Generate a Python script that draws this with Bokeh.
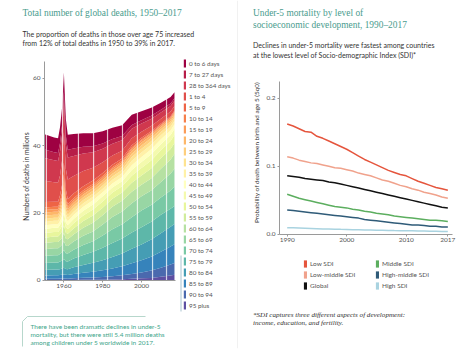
import math
from bokeh.plotting import figure
from bokeh.layouts import row
from bokeh.models import (ColumnDataSource, Range1d, FixedTicker, Legend, LegendItem,
                          NumeralTickFormatter)
from bokeh.core.properties import value
from bokeh.embed import file_html
from bokeh.resources import INLINE

# ---------------- data: global deaths by age (millions) ----------------
years = [1950, 1955, 1957, 1958, 1959, 1960, 1961, 1962, 1965, 1970,
         1975, 1980, 1985, 1990, 1995, 2000, 2005, 2010, 2015, 2017]
age_groups = ["0 to 6 days", "7 to 27 days", "28 to 364 days", "1 to 4", "5 to 9",
              "10 to 14", "15 to 19", "20 to 24", "25 to 29", "30 to 34", "35 to 39",
              "40 to 44", "45 to 49", "50 to 54", "55 to 59", "60 to 64", "65 to 69",
              "70 to 74", "75 to 79", "80 to 84", "85 to 89", "90 to 94", "95 plus"]
d1950 = [4.5, 2.5, 6.8, 6.3, 1.6, 0.8, 0.8, 0.9, 0.9, 0.9, 1.0, 1.1, 1.2, 1.4, 1.6, 1.8, 2.0, 2.1, 2.1, 1.6, 1.0, 0.4, 0.1]
d1955 = [4.4, 2.4, 6.5, 5.8, 1.5, 0.75, 0.75, 0.85, 0.9, 0.9, 1.0, 1.1, 1.2, 1.4, 1.6, 1.85, 2.05, 2.15, 2.15, 1.65, 1.05, 0.42, 0.11]
d1957 = [4.4, 2.4, 6.4, 5.7, 1.5, 0.75, 0.75, 0.85, 0.9, 0.9, 1.0, 1.1, 1.2, 1.4, 1.6, 1.85, 2.05, 2.15, 2.15, 1.65, 1.05, 0.42, 0.11]
d1958 = [4.7, 2.6, 7.0, 5.9, 1.9, 0.85, 0.85, 0.95, 1.0, 1.0, 1.1, 1.2, 1.3, 1.5, 1.7, 1.95, 2.15, 2.25, 2.25, 1.7, 1.1, 0.44, 0.12]
d1959 = [5.2, 2.9, 7.5, 7.2, 2.4, 1.1, 1.05, 1.15, 1.15, 1.15, 1.25, 1.35, 1.45, 1.65, 1.85, 2.1, 2.3, 2.4, 2.35, 1.8, 1.15, 0.46, 0.12]
d1960 = [5.8, 3.0, 9.0, 9.0, 3.45, 1.7, 1.5, 1.6, 1.6, 1.6, 1.65, 1.75, 1.85, 2.0, 2.2, 2.45, 2.6, 2.7, 2.6, 1.95, 1.2, 0.48, 0.12]
d1961 = [4.9, 2.7, 7.2, 6.1, 2.2, 1.0, 0.95, 1.05, 1.1, 1.1, 1.2, 1.3, 1.4, 1.6, 1.8, 2.05, 2.25, 2.35, 2.3, 1.75, 1.12, 0.45, 0.12]
d1962 = [4.5, 2.3, 6.5, 5.9, 1.45, 0.72, 0.72, 0.82, 0.88, 0.9, 1.0, 1.1, 1.22, 1.42, 1.65, 2.0, 2.2, 2.35, 2.3, 1.75, 1.08, 0.43, 0.11]
d1965 = [4.3, 2.2, 6.0, 5.2, 1.35, 0.68, 0.7, 0.82, 0.88, 0.92, 1.02, 1.15, 1.3, 1.52, 1.78, 2.1, 2.45, 2.6, 2.6, 2.0, 1.3, 0.5, 0.13]
d1970 = [4.0, 2.0, 5.2, 4.5, 1.2, 0.6, 0.68, 0.8, 0.85, 0.92, 1.05, 1.2, 1.38, 1.62, 2.0, 2.4, 2.75, 2.95, 3.0, 2.3, 1.5, 0.6, 0.2]
d1975 = [3.8, 1.8, 4.6, 3.8, 1.05, 0.55, 0.66, 0.8, 0.85, 0.92, 1.05, 1.22, 1.5, 1.8, 2.15, 2.6, 2.9, 3.15, 3.2, 2.68, 1.72, 0.7, 0.2]
d1980 = [3.6, 1.6, 4.0, 3.2, 0.9, 0.5, 0.65, 0.8, 0.86, 0.93, 1.05, 1.22, 1.5, 1.85, 2.25, 2.75, 3.3, 3.65, 3.7, 2.95, 2.0, 0.8, 0.24]
d1985 = [3.4, 1.4, 3.5, 2.7, 0.78, 0.46, 0.63, 0.8, 0.88, 0.95, 1.06, 1.22, 1.48, 1.88, 2.35, 3.05, 3.65, 4.05, 4.15, 3.46, 2.3, 0.95, 0.3]
d1990 = [3.2, 1.25, 3.1, 2.3, 0.68, 0.42, 0.62, 0.82, 0.9, 0.98, 1.08, 1.25, 1.5, 1.9, 2.45, 3.15, 3.8, 4.25, 4.4, 3.8, 2.7, 1.15, 0.4]
d1995 = [3.0, 1.15, 2.8, 2.1, 0.62, 0.4, 0.62, 0.85, 0.95, 1.15, 1.3, 1.45, 1.7, 2.1, 2.65, 3.4, 4.16, 4.55, 4.8, 4.3, 3.2, 1.45, 0.5]
d2000 = [2.7, 1.0, 2.4, 1.8, 0.5, 0.35, 0.58, 0.85, 0.98, 1.15, 1.32, 1.5, 1.78, 2.2, 2.75, 3.45, 4.2, 4.99, 5.1, 4.7, 3.6, 1.75, 0.65]
d2005 = [2.4, 0.9, 2.1, 1.6, 0.42, 0.3, 0.5, 0.78, 0.92, 1.1, 1.3, 1.52, 1.85, 2.35, 2.95, 3.6, 4.3, 4.95, 5.3, 5.1, 4.1, 2.2, 0.76]
d2010 = [2.1, 0.8, 1.85, 1.45, 0.33, 0.27, 0.43, 0.68, 0.8, 0.98, 1.18, 1.45, 1.8, 2.35, 3.15, 3.95, 4.6, 5.14, 5.49, 5.5, 4.7, 2.7, 1.1]
d2015 = [1.9, 0.74, 1.7, 1.35, 0.29, 0.25, 0.4, 0.6, 0.72, 0.9, 1.08, 1.38, 1.78, 2.35, 3.1, 4.2, 5.0, 5.46, 5.35, 5.85, 5.35, 3.25, 1.5]
d2017 = [1.8, 0.7, 1.6, 1.3, 0.27, 0.24, 0.38, 0.58, 0.7, 0.88, 1.05, 1.35, 1.78, 2.4, 3.2, 4.5, 5.35, 5.72, 5.3, 6.0, 5.6, 3.5, 1.7]
death_rows = [d1950, d1955, d1957, d1958, d1959, d1960, d1961, d1962, d1965, d1970,
              d1975, d1980, d1985, d1990, d1995, d2000, d2005, d2010, d2015, d2017]
guide_years = [1951.0, 1959.3, 1967.5, 1975.3, 1982.5, 1990.2, 1997.9, 2005.7, 2012.9]
left_ticks = [1960, 1980, 2000]
left_yticks = [0, 20, 40, 60]

# ---------------- data: under-5 mortality by SDI ----------------
u5_years = [1990, 1991, 1992, 1993, 1994, 1995, 1996, 1997, 1998, 1999, 2000, 2001, 2002, 2003,
            2004, 2005, 2006, 2007, 2008, 2009, 2010, 2011, 2012, 2013, 2014, 2015, 2016, 2017]
low_sdi = [0.162, 0.159, 0.155, 0.151, 0.150, 0.144, 0.141, 0.137, 0.133, 0.129, 0.125, 0.120, 0.115, 0.110,
           0.106, 0.102, 0.098, 0.094, 0.091, 0.088, 0.086, 0.082, 0.078, 0.075, 0.072, 0.069, 0.067, 0.065]
low_mid_sdi = [0.114, 0.112, 0.109, 0.107, 0.105, 0.104, 0.102, 0.100, 0.098, 0.097, 0.095, 0.093, 0.090, 0.088,
               0.086, 0.083, 0.080, 0.078, 0.075, 0.072, 0.070, 0.067, 0.065, 0.062, 0.060, 0.058, 0.055, 0.053]
global_u5 = [0.086, 0.085, 0.084, 0.082, 0.081, 0.080, 0.079, 0.077, 0.076, 0.074, 0.072, 0.070, 0.068, 0.066,
             0.064, 0.062, 0.060, 0.058, 0.056, 0.054, 0.052, 0.050, 0.048, 0.046, 0.044, 0.042, 0.040, 0.039]
mid_sdi = [0.059, 0.056, 0.053, 0.051, 0.049, 0.047, 0.045, 0.043, 0.041, 0.040, 0.039, 0.037, 0.036, 0.034,
           0.033, 0.031, 0.030, 0.029, 0.027, 0.026, 0.025, 0.024, 0.023, 0.022, 0.021, 0.021, 0.020, 0.019]
high_mid_sdi = [0.036, 0.035, 0.034, 0.033, 0.032, 0.031, 0.030, 0.029, 0.028, 0.027, 0.026, 0.025, 0.024, 0.022,
                0.021, 0.020, 0.019, 0.018, 0.017, 0.016, 0.015, 0.014, 0.014, 0.013, 0.012, 0.012, 0.011, 0.011]
high_sdi = [0.0100, 0.0097, 0.0094, 0.0091, 0.0088, 0.0085, 0.0082, 0.0080, 0.0078, 0.0075, 0.0073, 0.0071,
            0.0069, 0.0067, 0.0065, 0.0063, 0.0061, 0.0059, 0.0057, 0.0056, 0.0054, 0.0053, 0.0051, 0.0050,
            0.0048, 0.0047, 0.0045, 0.0044]
sdi_names = ["Low SDI", "Low-middle SDI", "Global", "Middle SDI", "High-middle SDI", "High SDI"]
right_ticks = [1990, 2000, 2010, 2017]
right_yticks = [0, 0.1, 0.2]

# ---------------- styles ----------------
SANS = "Lato"
SERIF = "Liberation Serif"
TEAL = "#4a9c8e"
NOTE_TEAL = "#3ea58a"
sdi_colors = ["#e5553d", "#f0a28c", "#111111", "#5cae5f", "#2f5b78", "#a9d3e0"]
SPECTRAL = ["#9e0142", "#d53e4f", "#f46d43", "#fdae61", "#fee08b", "#ffffbf",
            "#e6f598", "#abdda4", "#66c2a5", "#3288bd", "#5e4fa2"]


def mix(c1, c2, f):
    a = [int(c1[i:i + 2], 16) for i in (1, 3, 5)]
    b = [int(c2[i:i + 2], 16) for i in (1, 3, 5)]
    return "#" + "".join("%02x" % round(a[k] + (b[k] - a[k]) * f) for k in range(3))


age_colors = []
for i in range(len(age_groups)):
    t = i / (len(age_groups) - 1) * (len(SPECTRAL) - 1)
    k = min(int(t), len(SPECTRAL) - 2)
    age_colors.append(mix(SPECTRAL[k], SPECTRAL[k + 1], t - k))

PX = dict(x_range_name="px", y_range_name="py")


def put_text(p, x, y, lines, size, color, font, lh, style="normal", angle=0.0, align="left"):
    ys = [y + i * lh for i in range(len(lines))]
    p.text(x=[x] * len(lines), y=ys, text=lines, text_font=value(font), text_font_size=size,
           text_color=color, text_font_style=style, text_baseline="middle", text_align=align,
           angle=angle, **PX)


def style_axes(p):
    for ax in (p.xaxis, p.yaxis):
        ax.axis_line_color = "#9a9a9a"
        ax.major_tick_line_color = "#9a9a9a"
        ax.minor_tick_line_color = None
        ax.major_tick_in = 0
        ax.major_tick_out = 2
        ax.major_label_text_font = SANS
        ax.major_label_text_font_size = "6.5px"
        ax.major_label_text_color = "#555555"
        ax.major_label_standoff = 2


def panel(width, xr, yr, px_x):
    p = figure(width=width, height=363, x_range=xr, y_range=yr, output_backend="svg",
               toolbar_location=None, min_border_left=14, min_border_right=0, min_border_top=0,
               min_border_bottom=15, outline_line_color=None)
    p.extra_x_ranges = {"px": Range1d(*px_x)}
    p.extra_y_ranges = {"py": Range1d(348, 0)}
    p.grid.visible = False
    return p


def legend_box(items, loc, gw, gh, font_size):
    return Legend(items=items, location=loc, orientation="vertical", padding=0, margin=0,
                  spacing=1 if gh == 10 else 2, glyph_width=gw, glyph_height=gh, label_height=gh,
                  label_standoff=3, label_text_font=SANS, label_text_font_size=font_size,
                  label_text_color="#555555", background_fill_alpha=0, border_line_alpha=0,
                  inactive_fill_alpha=0)


# ================= LEFT PANEL =================
LEFT = panel(238, Range1d(1934.54, 2050.0), Range1d(-20.2, 83.16), (14, 238))

data = {"year": years}
for j, g in enumerate(age_groups):
    data[g] = [r[j] for r in death_rows]
src = ColumnDataSource(data)
rends = LEFT.varea_stack(stackers=age_groups[::-1], x="year", color=age_colors[::-1], source=src)
LEFT.segment(x0=guide_years, y0=[0] * len(guide_years), x1=guide_years, y1=[65] * len(guide_years),
             line_color="white", line_alpha=0.75, line_width=1.2)
LEFT.xaxis.ticker = FixedTicker(ticks=left_ticks)
LEFT.yaxis.ticker = FixedTicker(ticks=left_yticks)
LEFT.xaxis.fixed_location = 0
LEFT.yaxis.fixed_location = 1950
LEFT.xaxis.bounds = (1950, 2017.5)
LEFT.yaxis.bounds = (0, 65)
style_axes(LEFT)

n = len(age_groups)
leg = legend_box([LegendItem(label=age_groups[i], renderers=[rends[n - 1 - i]]) for i in range(n)],
                 (169, 38), 3, 10, "6.3px")
LEFT.add_layout(leg)

put_text(LEFT, 22, 12.5, ["Total number of global deaths, 1950\u20132017"], "9.4px", TEAL, SERIF, 0)
put_text(LEFT, 22, 33.7, ["The proportion of deaths in those over age 75 increased",
                          "from 12% of total deaths in 1950 to 39% in 2017."], "7px", "#333333", SANS, 9.2)
put_text(LEFT, 25, 176, ["Numbers of deaths in millions"], "6.8px", "#333333", SANS, 0,
         angle=math.pi / 2, align="center")
LEFT.line(x=[180.5, 180.5], y=[255, 311], line_color="#a9c4d0", line_width=1, **PX)
LEFT.line(x=[145, 27, 22, 22], y=[316, 316, 321, 346], line_color="#b7d7cc", line_width=1, **PX)
put_text(LEFT, 30, 326.3, ["There have been dramatic declines in under-5",
                           "mortality, but there were still 5.4 million deaths",
                           "among children under 5 worldwide in 2017."], "6.5px", NOTE_TEAL, SANS, 7.7)
LEFT.line(x=[237.5, 237.5], y=[0, 348], line_color="#e3e3e3", line_width=1, **PX)

# ================= RIGHT PANEL =================
RIGHT = panel(236, Range1d(1984.17, 2021.48), Range1d(-0.1672, 0.3431), (252, 474))
u5_series = [low_sdi, low_mid_sdi, global_u5, mid_sdi, high_mid_sdi, high_sdi]
u5 = ColumnDataSource(dict(year=u5_years, low=low_sdi, lowmid=low_mid_sdi, glob=global_u5,
                           mid=mid_sdi, highmid=high_mid_sdi, high=high_sdi))
fields = ["low", "lowmid", "glob", "mid", "highmid", "high"]
items = []
for name, fld, col, ser in zip(sdi_names, fields, sdi_colors, u5_series):
    RIGHT.line("year", fld, source=u5, line_color=col, line_width=1.5)
    # zero-size key glyph (first data point) so the legend shows a filled swatch
    key = RIGHT.quad(left=[u5_years[0]], right=[u5_years[0]], top=[ser[0]], bottom=[ser[0]],
                     fill_color=col, line_color=None)
    items.append(LegendItem(label=name, renderers=[key]))
RIGHT.xaxis.ticker = FixedTicker(ticks=right_ticks)
RIGHT.yaxis.ticker = FixedTicker(ticks=right_yticks)
RIGHT.yaxis.formatter = NumeralTickFormatter(format="0.0")
RIGHT.xaxis.fixed_location = 0
RIGHT.yaxis.fixed_location = 1988.7
RIGHT.xaxis.bounds = (1988.7, 2017.8)
RIGHT.yaxis.bounds = (0, 0.224)
style_axes(RIGHT)
RIGHT.add_layout(legend_box(items[:3], (51, 58), 4, 9, "6.5px"))
RIGHT.add_layout(legend_box(items[3:], (123, 58), 4, 9, "6.5px"))

put_text(RIGHT, 252.5, 12.3, ["Under-5 mortality by level of",
                              "socioeconomic development, 1990\u20132017"], "9.4px", TEAL, SERIF, 11.7)
put_text(RIGHT, 252.5, 44.3, ["Declines in under-5 mortality were fastest among countries",
                              "at the lowest level of Socio-demographic Index (SDI)*"], "7px", "#333333", SANS, 10)
put_text(RIGHT, 256, 152, ["Probability of death between birth and age 5 (5q0)"], "6.4px", "#333333", SANS, 0,
         angle=math.pi / 2, align="center")
put_text(RIGHT, 252.5, 314, ["*SDI captures three different aspects of development:",
                             "income, education, and fertility."], "7.1px", "#333333", SERIF, 8.5, style="italic")

layout = row(LEFT, RIGHT)
open("out.html", "w").write(file_html(layout, INLINE))
